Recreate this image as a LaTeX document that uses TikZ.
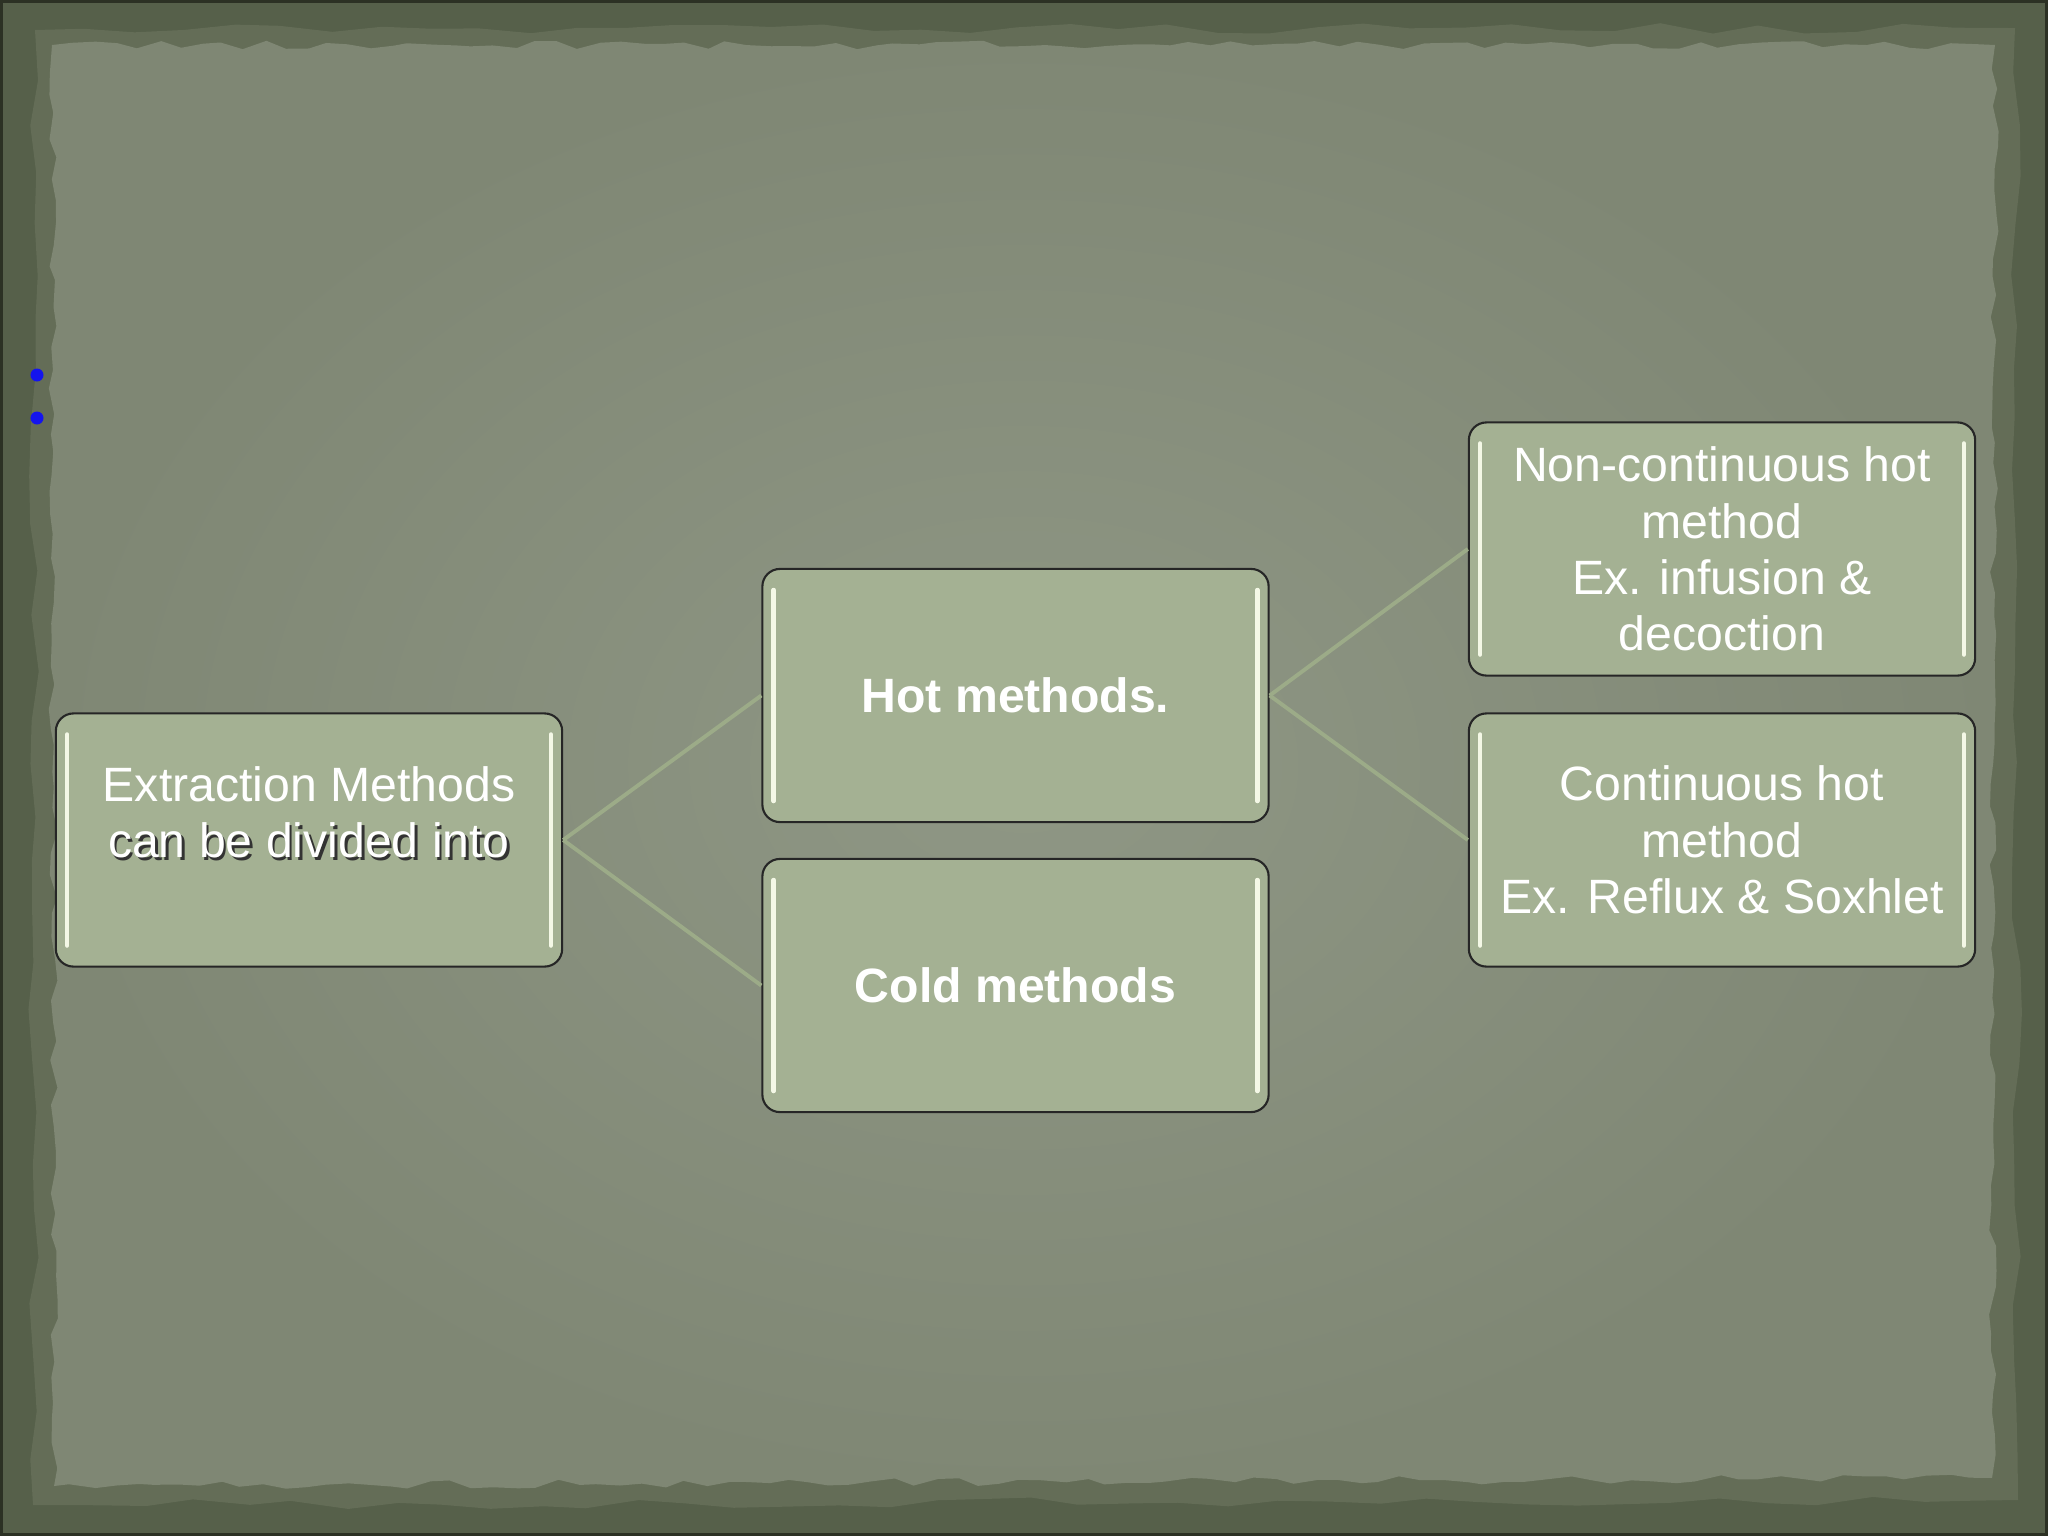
\documentclass[tikz,border=0pt]{standalone}
\usepackage[usenames,dvipsnames]{xcolor}
\usepackage{fontspec}
\setmainfont{Liberation Sans}
\usetikzlibrary{decorations.pathmorphing}

\definecolor{frame_dark}{HTML}{56604A}
\definecolor{frame_mid}{HTML}{646D57}
\definecolor{frame_edge}{HTML}{2C3124}
\definecolor{paper_light}{HTML}{8F9785}
\definecolor{paper_dark}{HTML}{7F8774}
\definecolor{box_fill}{HTML}{A4B193}
\definecolor{box_shine}{HTML}{F4F8E6}
\definecolor{link_green}{HTML}{9CAB88}
\definecolor{dot_blue}{HTML}{1414EE}

\newcommand{\shadowtext}[1]{\makebox[0pt][l]{\hspace{0.8pt}\raisebox{-0.8pt}{\color{black!80}#1}}#1}

\begin{document}
\begin{tikzpicture}[x=0.01cm, y=-0.01cm]

  \tikzset{method/.style={draw=black!85, line width=0.6pt, fill=box_fill,
                          rounded corners=5pt,
                          minimum width=5.06cm, minimum height=2.53cm,
                          inner sep=0pt, align=center, text=white,
                          font=\fontsize{13.7}{16}\selectfont,
                          path picture={
                            \draw[box_shine, line width=1.3pt, line cap=round]
                              ([xshift=3.2pt,yshift=-6pt]path picture bounding box.north west)
                              -- ([xshift=3.2pt,yshift=6pt]path picture bounding box.south west);
                            \draw[box_shine, line width=1.3pt, line cap=round]
                              ([xshift=-3.2pt,yshift=-6pt]path picture bounding box.north east)
                              -- ([xshift=-3.2pt,yshift=6pt]path picture bounding box.south east);
                          }},
           bold/.style={font=\fontsize{13.7}{16}\selectfont\bfseries},
           link/.style={draw=link_green, line width=1.1pt},
           bullet/.style={circle, fill=dot_blue, inner sep=0pt, minimum size=0.13cm}}

\useasboundingbox (0,0) rectangle (2048,1536);

% frame and paper
\fill[frame_dark] (0,0) rectangle (2048,1536);
\draw[frame_edge, line width=1.5pt] (0,0) rectangle (2048,1536);
\pgfmathsetseed{7}
\fill[frame_mid, decorate, decoration={random steps, segment length=14pt, amplitude=1.5pt}]
  (35,30) -- (2015,28) -- (2018,1500) -- (33,1505) -- cycle;
\shade[inner color=paper_light, outer color=paper_dark, decorate,
       decoration={random steps, segment length=6pt, amplitude=1.2pt}]
  (52,45) -- (1995,45) -- (1992,1478) -- (54,1486) -- cycle;

\node[bullet] (dot1) at (37,375) {};
\node[bullet] (dot2) at (37,418) {};

% level 1
\node[method] (extract) at (309,840) {Extraction Methods\\\shadowtext{can be divided into}\\\mbox{}};

% level 2
\node[method, bold] (hot)  at (1015.5,695.5) {Hot methods.};
\node[method, bold] (cold) at (1015.5,985.5) {Cold methods};

% level 3
\node[method] (noncont) at (1722,549) {Non-continuous hot\\method\\Ex. infusion \&\\decoction};
\node[method] (cont)    at (1722,840) {Continuous hot\\method\\Ex. Reflux \& Soxhlet};

\draw[link] (extract.east) -- (hot.west);
\draw[link] (extract.east) -- (cold.west);
\draw[link] (hot.east) -- (noncont.west);
\draw[link] (hot.east) -- (cont.west);

\end{tikzpicture}
\end{document}
